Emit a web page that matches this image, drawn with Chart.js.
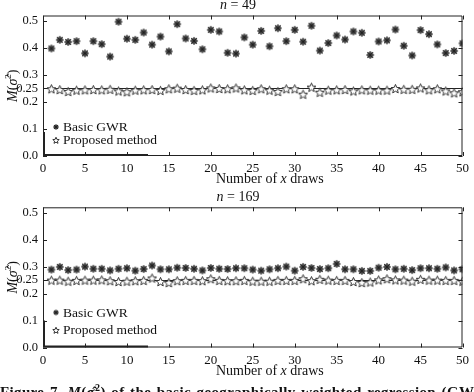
<!DOCTYPE html>
<html>
<head>
<meta charset="utf-8">
<script src="https://cdn.jsdelivr.net/npm/chart.js@4.4.0/dist/chart.umd.min.js"></script>
<style>
  html, body { margin: 0; padding: 0; background: #fff; }
  #wrap { position: relative; width: 474px; height: 392px; overflow: hidden; }
  canvas { position: absolute; left: 0; }
  #c49 { top: 0; }
  #c169 { top: 190px; }
  #caption {
    position: absolute; left: 0; top: 380px; width: 520px;
    white-space: nowrap; font: bold 15px "Liberation Serif", serif; line-height: 15px; color: #111;
    letter-spacing: 0.35px; word-spacing: 1.5px;
  }
</style>
</head>
<body>
<div id="wrap">
  <canvas id="c49" width="474" height="190"></canvas>
  <canvas id="c169" width="474" height="202"></canvas>
  <div id="caption">Figure 7. <i>M</i>(σ̂<sup style="font-size:10px">2</sup>) of the basic geographically weighted regression (GWR)</div>
</div>
<script>
const FONT = "'Liberation Serif', 'Times New Roman', serif";
const INK = "#222";

const DRAWS = [1, 2, 3, 4, 5, 6, 7, 8, 9, 10, 11, 12, 13, 14, 15, 16, 17, 18, 19, 20,
  21, 22, 23, 24, 25, 26, 27, 28, 29, 30, 31, 32, 33, 34, 35, 36, 37, 38, 39, 40,
  41, 42, 43, 44, 45, 46, 47, 48, 49, 50];
const X_TICKS = [0, 5, 10, 15, 20, 25, 30, 35, 40, 45, 50];
const Y_TICKS = [0, 0.1, 0.2, 0.25, 0.3, 0.4, 0.5];
const Y_TICK_LABELS = ["0.0", "0.1", "0.2", "0.25", "0.3", "0.4", "0.5"];
const REF_LINE = 0.25;
const SERIES = ["Basic GWR", "Proposed method"];

// n = 49
const GWR_49 = [0.398, 0.430, 0.422, 0.425, 0.380, 0.425, 0.414, 0.368, 0.497, 0.434,
  0.430, 0.457, 0.412, 0.442, 0.387, 0.488, 0.435, 0.426, 0.395, 0.467,
  0.461, 0.382, 0.379, 0.439, 0.412, 0.463, 0.406, 0.473, 0.425, 0.467,
  0.423, 0.482, 0.390, 0.418, 0.446, 0.431, 0.461, 0.456, 0.374, 0.424,
  0.428, 0.468, 0.408, 0.372, 0.466, 0.451, 0.413, 0.381, 0.389, 0.417];
const PROPOSED_49 = [0.249, 0.246, 0.239, 0.244, 0.245, 0.246, 0.245, 0.247, 0.241, 0.238,
  0.244, 0.245, 0.246, 0.243, 0.249, 0.251, 0.246, 0.243, 0.245, 0.252,
  0.250, 0.249, 0.252, 0.245, 0.243, 0.249, 0.244, 0.239, 0.249, 0.249,
  0.229, 0.255, 0.236, 0.244, 0.245, 0.246, 0.241, 0.245, 0.244, 0.244,
  0.244, 0.250, 0.247, 0.247, 0.252, 0.245, 0.249, 0.241, 0.234, 0.238];

// n = 169
const GWR_169 = [0.289, 0.299, 0.287, 0.289, 0.300, 0.292, 0.292, 0.286, 0.292, 0.294,
  0.285, 0.291, 0.304, 0.290, 0.290, 0.296, 0.295, 0.292, 0.286, 0.295,
  0.292, 0.291, 0.294, 0.294, 0.289, 0.285, 0.290, 0.294, 0.300, 0.285,
  0.299, 0.295, 0.291, 0.294, 0.310, 0.290, 0.290, 0.284, 0.284, 0.296,
  0.299, 0.290, 0.292, 0.287, 0.294, 0.294, 0.292, 0.297, 0.286, 0.290];
const PROPOSED_169 = [0.250, 0.250, 0.246, 0.249, 0.250, 0.250, 0.251, 0.248, 0.245, 0.246,
  0.248, 0.249, 0.258, 0.245, 0.241, 0.248, 0.249, 0.249, 0.248, 0.255,
  0.249, 0.248, 0.248, 0.249, 0.246, 0.246, 0.246, 0.249, 0.249, 0.249,
  0.255, 0.248, 0.253, 0.250, 0.249, 0.249, 0.245, 0.241, 0.243, 0.251,
  0.255, 0.251, 0.250, 0.246, 0.253, 0.250, 0.250, 0.249, 0.249, 0.246];

function asteriskMarker(r) {
  const c = document.createElement("canvas");
  const s = Math.ceil(r * 2 + 2);
  c.width = c.height = s;
  const g = c.getContext("2d");
  const m = s / 2;
  g.fillStyle = "#8c8c8c";
  g.beginPath();
  g.arc(m, m, r * 0.8, 0, Math.PI * 2);
  g.fill();
  g.strokeStyle = INK;
  g.lineWidth = 1.1;
  for (let k = 0; k < 4; k++) {
    const a = k * Math.PI / 4;
    g.beginPath();
    g.moveTo(m - r * Math.cos(a), m - r * Math.sin(a));
    g.lineTo(m + r * Math.cos(a), m + r * Math.sin(a));
    g.stroke();
  }
  return c;
}

function starMarker(r) {
  const c = document.createElement("canvas");
  const s = Math.ceil(r * 2 + 3);
  c.width = c.height = s;
  const g = c.getContext("2d");
  const m = s / 2;
  g.beginPath();
  for (let k = 0; k < 10; k++) {
    const rad = k % 2 ? r * 0.45 : r;
    const a = -Math.PI / 2 + k * Math.PI / 5;
    const px = m + rad * Math.cos(a), py = m + 0.6 + rad * Math.sin(a);
    k ? g.lineTo(px, py) : g.moveTo(px, py);
  }
  g.closePath();
  g.fillStyle = "#fff";
  g.fill();
  g.strokeStyle = "#333";
  g.lineWidth = 1;
  g.stroke();
  return c;
}

const MARK_GWR = asteriskMarker(3.9);
const MARK_PROP = starMarker(4.7);
const LEG_GWR = asteriskMarker(2.8);
const LEG_PROP = starMarker(3.4);

function drawRuns(ctx, runs, x, y, align) {
  let w = 0;
  runs.forEach((r) => {
    ctx.font = `${r.italic ? "italic " : ""}${r.size}px ${FONT}`;
    r.w = ctx.measureText(r.t).width;
    w += r.w;
  });
  let cx = align === "center" ? x - w / 2 : x;
  runs.forEach((r) => {
    ctx.font = `${r.italic ? "italic " : ""}${r.size}px ${FONT}`;
    ctx.fillText(r.t, cx, y + (r.dy || 0));
    cx += r.w;
  });
}

const decor = {
  id: "decor",
  beforeDatasetsDraw(chart) {
    const { ctx, chartArea: a, scales } = chart;
    const y = Math.round(scales.y.getPixelForValue(REF_LINE)) + 0.5;
    ctx.save();
    ctx.strokeStyle = INK;
    ctx.lineWidth = 1;
    ctx.beginPath();
    ctx.moveTo(a.left, y);
    ctx.lineTo(a.right, y);
    ctx.stroke();
    ctx.restore();
  },
  afterDraw(chart, args, o) {
    const { ctx, chartArea: a, scales } = chart;
    ctx.save();
    ctx.strokeStyle = INK;
    ctx.lineWidth = 1;
    ctx.beginPath();
    ctx.rect(a.left + 0.5, a.top + 0.5, a.right - a.left - 1, a.bottom - a.top - 1);
    ctx.stroke();

    // inward tick marks
    ctx.beginPath();
    X_TICKS.forEach((v) => {
      const x = Math.round(scales.x.getPixelForValue(v)) + 0.5;
      ctx.moveTo(x, a.top); ctx.lineTo(x, a.top + 4);
      ctx.moveTo(x, a.bottom); ctx.lineTo(x, a.bottom - 4);
    });
    Y_TICKS.forEach((v) => {
      const y = Math.round(scales.y.getPixelForValue(v)) + 0.5;
      ctx.moveTo(a.left, y); ctx.lineTo(a.left + 4, y);
      ctx.moveTo(a.right, y); ctx.lineTo(a.right - 4, y);
    });
    ctx.stroke();

    // remains of the legend box edge
    ctx.lineWidth = 2;
    ctx.beginPath();
    ctx.moveTo(a.left + 1, a.bottom - o.boxH);
    ctx.lineTo(a.left + 1, a.bottom - 1);
    ctx.lineTo(a.left + o.boxW, a.bottom - 1);
    ctx.stroke();

    ctx.fillStyle = "#111";
    ctx.textBaseline = "alphabetic";
    // title
    drawRuns(ctx, [
      { t: "n", italic: true, size: 14 },
      { t: " = " + o.n, size: 14 }
    ], o.titleX, o.titleY, "center");

    // x axis title
    drawRuns(ctx, [
      { t: "Number of ", size: 14 },
      { t: "x", italic: true, size: 14 },
      { t: " draws", size: 14 }
    ], o.xTitleX, o.xTitleY, "left");

    // y axis title
    ctx.save();
    ctx.translate(17, (a.top + a.bottom) / 2);
    ctx.rotate(-Math.PI / 2);
    drawRuns(ctx, [
      { t: "M", italic: true, size: 14 },
      { t: "(", size: 14 },
      { t: "σ̂", italic: true, size: 14 },
      { t: "2", size: 9, dy: -6 },
      { t: ")", size: 14 }
    ], 0, 0, "center");
    ctx.restore();

    // legend
    const marks = [LEG_GWR, LEG_PROP];
    SERIES.forEach((label, i) => {
      const cy = a.bottom - o.legendRows[i];
      const m = marks[i];
      ctx.drawImage(m, 56 - m.width / 2, cy - m.height / 2);
      ctx.font = `13.5px ${FONT}`;
      ctx.textBaseline = "middle";
      ctx.fillText(label, 63, cy + 0.5);
    });
    ctx.restore();
  }
};

function buildChart(id, n, gwr, proposed, lay) {
  const canvas = document.getElementById(id);
  return new Chart(canvas.getContext("2d"), {
    type: "scatter",
    data: {
      datasets: [
        {
          label: SERIES[0],
          data: DRAWS.map((d, i) => ({ x: d, y: gwr[i] })),
          pointStyle: MARK_GWR,
          showLine: false
        },
        {
          label: SERIES[1],
          data: DRAWS.map((d, i) => ({ x: d, y: proposed[i] })),
          pointStyle: MARK_PROP,
          showLine: false
        }
      ]
    },
    options: {
      responsive: false,
      animation: false,
      layout: { padding: { top: lay.top, right: 9, left: 0, bottom: 0 } },
      plugins: {
        legend: { display: false },
        tooltip: { enabled: false },
        decor: {
          n,
          titleX: 238, titleY: lay.titleY,
          xTitleX: 216, xTitleY: lay.xTitleY,
          legendRows: lay.legendRows,
          boxW: 105, boxH: lay.boxH
        }
      },
      scales: {
        x: {
          type: "linear",
          min: 0,
          max: 50,
          afterBuildTicks: (s) => { s.ticks = X_TICKS.map((v) => ({ value: v })); },
          afterFit: (s) => { s.height = lay.xAxisH; },
          grid: { display: false, drawTicks: false },
          border: { display: false },
          ticks: {
            padding: 5,
            maxRotation: 0,
            color: "#111",
            font: { family: FONT, size: 13 }
          }
        },
        y: {
          min: 0,
          max: 0.52,
          afterBuildTicks: (s) => { s.ticks = Y_TICKS.map((v) => ({ value: v })); },
          afterFit: (s) => { s.width = 43; },
          grid: { display: false, drawTicks: false },
          border: { display: false },
          ticks: {
            autoSkip: false,
            padding: 5,
            color: "#111",
            font: { family: FONT, size: 12.5 },
            callback: (v, i) => Y_TICK_LABELS[i]
          }
        }
      }
    },
    plugins: [decor]
  });
}

buildChart("c49", 49, GWR_49, PROPOSED_49, {
  top: 15.5, xAxisH: 34, titleY: 8.5, xTitleY: 183, legendRows: [29, 16], boxH: 24
});
buildChart("c169", 169, GWR_169, PROPOSED_169, {
  top: 17.3, xAxisH: 44.5, titleY: 11, xTitleY: 185, legendRows: [35, 17.5], boxH: 27
});
</script>
</body>
</html>
